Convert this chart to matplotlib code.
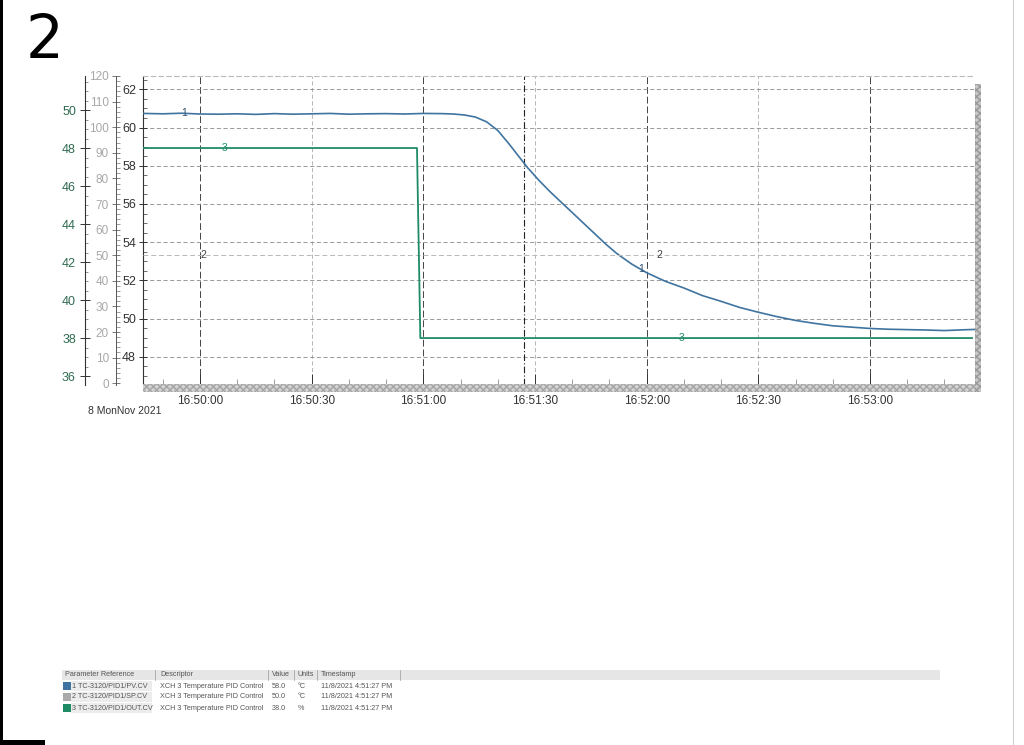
import pandas as pd
import matplotlib.pyplot as plt
import matplotlib.dates as mdates
from matplotlib.ticker import MultipleLocator
from matplotlib.patches import Rectangle
from matplotlib.lines import Line2D
import numpy as np

plt.rcParams['font.family'] = ['Liberation Sans', 'DejaVu Sans']

start = pd.Timestamp("2021-11-08 16:50:00")
cursor_s = 87  # 16:51:27

# 1 PV (deg C, inner axis) - seconds after 16:50:00
pv_s = [-15.3, -10, -5, 0, 5, 10, 15, 20, 25, 30, 35, 40, 45, 50, 55, 60, 65,
        68, 71, 74, 77, 80, 83, 86, 88, 91, 94, 97, 100, 103, 106, 109, 112, 116,
        120, 125, 130, 135, 140, 145, 150, 155, 160, 165, 170, 175, 180, 185,
        190, 195, 200, 205, 208.2]
pv_val = [60.74, 60.72, 60.75, 60.71, 60.70, 60.72, 60.69, 60.73, 60.70, 60.72,
          60.74, 60.70, 60.72, 60.73, 60.71, 60.74, 60.73, 60.71, 60.66, 60.55,
          60.30, 59.85, 59.15, 58.40, 57.90, 57.25, 56.65, 56.10, 55.55, 55.00,
          54.45, 53.90, 53.40, 52.85, 52.40, 51.95, 51.60, 51.20, 50.90, 50.58,
          50.33, 50.10, 49.90, 49.75, 49.62, 49.55, 49.48, 49.44, 49.42, 49.40,
          49.37, 49.41, 49.43]

# 2 SP (middle axis)
sp_s = [-15.3, 208.2]
sp_val = [50.0, 50.0]

# 3 OUT (%, outer axis)
out_s = [-15.3, 58.3, 59.2, 207.4]
out_val = [48.0, 48.0, 38.0, 38.0]

# pen labels (seconds)
label1_s = [-4.3, 118.5]
label2_s = [0.8, 123.3]
label3_s = [6.7, 129.4]

table_rows = [
    ["1 TC-3120/PID1/PV.CV", "XCH 3 Temperature PID Control", "58.0", "\u00b0C", "11/8/2021 4:51:27 PM"],
    ["2 TC-3120/PID1/SP.CV", "XCH 3 Temperature PID Control", "50.0", "\u00b0C", "11/8/2021 4:51:27 PM"],
    ["3 TC-3120/PID1/OUT.CV", "XCH 3 Temperature PID Control", "38.0", "%", "11/8/2021 4:51:27 PM"],
]
table_header = ["Parameter Reference", "Descriptor", "Value", "Units", "Timestamp"]

blue = "#3f74a0"
green = "#1f8c66"
gray = "#aaaaaa"


def to_time(sec):
    return start + pd.to_timedelta(np.asarray(sec, dtype=float), unit="s")


W, H = 1024, 745
fig = plt.figure(figsize=(10.24, 7.45), dpi=100)
ax = fig.add_axes([143 / W, 1 - 385 / H, (975 - 143) / W, (385 - 76) / H])

ax.set_xlim(to_time(-15.3), to_time(208.2))
ax.set_ylim(46.52, 62.7)

for s in ["right", "bottom"]:
    ax.spines[s].set_visible(False)
ax.spines["top"].set_color("#bbbbbb")
ax.spines["top"].set_linestyle((0, (4, 3)))
ax.spines["left"].set_color("#333333")
ax.spines["left"].set_linewidth(0.8)

ax.yaxis.set_major_locator(MultipleLocator(2))
ax.yaxis.set_minor_locator(MultipleLocator(0.5))
ax.tick_params(axis="y", which="major", direction="inout", length=6, width=0.7,
               labelsize=9, colors="#333333", pad=2)
ax.tick_params(axis="y", which="minor", direction="in", length=3, width=0.6, colors="#555555")

ax.xaxis.set_major_locator(mdates.SecondLocator(bysecond=[0, 30]))
ax.xaxis.set_minor_locator(mdates.SecondLocator(bysecond=[10, 20, 40, 50]))
ax.xaxis.set_major_formatter(mdates.DateFormatter("%H:%M:%S"))
ax.tick_params(axis="x", which="major", direction="in", length=8, width=0.7,
               labelsize=8.5, colors="#333333", pad=7)
ax.tick_params(axis="x", which="minor", direction="in", length=4, width=0.5, colors="#777777")

ax.grid(axis="y", color="#8a8a8a", linestyle=(0, (5, 3)), linewidth=0.6)
ax.grid(axis="x", color="#aaaaaa", linestyle=(0, (5, 3)), linewidth=0.6)
fig.canvas.draw()
for gl, loc in zip(ax.get_xgridlines(), ax.get_xticks()):
    if mdates.num2date(loc).second == 0:
        gl.set_color("#444444")
        gl.set_linestyle((0, (7, 3)))
        gl.set_linewidth(0.7)
ax.axvline(to_time(cursor_s), color="#222222", linestyle=(0, (6, 2, 1, 2)), linewidth=0.8)

ax.plot(to_time(pv_s), pv_val, color=blue, linewidth=1.2, zorder=4)
for s in label1_s:
    ax.text(to_time(s), np.interp(s, pv_s, pv_val), "1", fontsize=7.5, color="#2d4f70",
            ha="center", va="center", zorder=5)

# middle axis 0-120
ax2 = ax.twinx()
ax2.spines["right"].set_visible(False)
ax2.spines["top"].set_visible(False)
ax2.spines["bottom"].set_visible(False)
ax2.spines["left"].set_visible(True)
ax2.spines["left"].set_position(("outward", 19.5))
ax2.spines["left"].set_color("#555555")
ax2.spines["left"].set_linewidth(0.7)
ax2.yaxis.tick_left()
ax2.set_ylim(-0.7, 120)
ax2.yaxis.set_major_locator(MultipleLocator(10))
ax2.yaxis.set_minor_locator(MultipleLocator(2))
ax2.tick_params(axis="y", which="major", direction="inout", length=6, width=0.6,
                labelsize=8.5, labelcolor="#a8a8a8", color="#666666", pad=2)
ax2.tick_params(axis="y", which="minor", direction="in", length=3, width=0.5, color="#777777")
ax2.plot(to_time(sp_s), sp_val, color="#b8b8b8", linewidth=0.7, linestyle=(0, (5, 3)), zorder=3)
for s in label2_s:
    ax2.text(to_time(s), sp_val[0], "2", fontsize=7.5, color="#444444",
             ha="center", va="center", zorder=5)

# outer axis 36-50
ax3 = ax.twinx()
ax3.spines["right"].set_visible(False)
ax3.spines["top"].set_visible(False)
ax3.spines["bottom"].set_visible(False)
ax3.spines["left"].set_visible(True)
ax3.spines["left"].set_position(("outward", 41.8))
ax3.spines["left"].set_color("#333333")
ax3.spines["left"].set_linewidth(0.8)
ax3.yaxis.tick_left()
ax3.set_ylim(35.53, 51.79)
ax3.yaxis.set_major_locator(MultipleLocator(2))
ax3.yaxis.set_minor_locator(MultipleLocator(0.5))
ax3.tick_params(axis="y", which="major", direction="inout", length=7, width=0.7,
                labelsize=9, labelcolor="#2f6a50", color="#333333", pad=3)
ax3.tick_params(axis="y", which="minor", direction="in", length=2.5, width=0.5, color="#666666")
ax3.plot(to_time(out_s), out_val, color=green, linewidth=1.3, zorder=4)
for s in label3_s:
    ax3.text(to_time(s), np.interp(s, out_s, out_val), "3", fontsize=7.5, color=green,
             ha="center", va="center", zorder=5)

# scrollbar strips
fig.add_artist(Rectangle((143 / W, 1 - 392 / H), (981 - 143) / W, 8 / H,
                         facecolor="#d2d2d2", edgecolor="#a5a5a5", hatch="xxxxx", linewidth=0))
fig.add_artist(Rectangle((975 / W, 1 - 392 / H), 6 / W, (392 - 84) / H,
                         facecolor="#c8c8c8", edgecolor="#999999", hatch="xxxxx", linewidth=0))

fig.text(88 / W, 1 - 411 / H, "8 MonNov 2021", fontsize=7.5, color="#333333", va="center")

# handwritten page number
fig.text(26 / W, 1 - 41 / H, "2", fontsize=43, color="black", va="center", ha="left",
         family="DejaVu Sans")

# parameter table
col_x = [65, 160, 272, 298, 321]
sep_x = [155, 268, 294, 317, 400]
fig.add_artist(Rectangle((62 / W, 1 - 680 / H), (940 - 62) / W, 10 / H,
                         facecolor="#e6e6e6", edgecolor="none"))
for x in sep_x:
    fig.add_artist(Line2D([x / W, x / W], [1 - 680 / H, 1 - 670 / H], color="#999999", linewidth=0.5))
for x, txt in zip(col_x, table_header):
    fig.text(x / W, 1 - 675 / H, txt, fontsize=5.2, color="#555555", va="center")

swatch = [blue, gray, green]
for i, row in enumerate(table_rows):
    y = 686 + i * 11
    fig.add_artist(Rectangle((71 / W, 1 - (y + 5) / H), (152 - 71) / W, 10 / H,
                             facecolor="#ececec", edgecolor="none"))
    fig.add_artist(Rectangle((63 / W, 1 - (y + 4) / H), 8 / W, 8 / H,
                             facecolor=swatch[i], edgecolor="none"))
    fig.text(72 / W, 1 - y / H, row[0], fontsize=5.2, color="#555555", va="center")
    for x, txt in zip(col_x[1:], row[1:]):
        fig.text(x / W, 1 - y / H, txt, fontsize=5.2, color="#555555", va="center")

# scan edges
fig.add_artist(Rectangle((0, 0), 3 / W, 1, facecolor="black", edgecolor="none"))
fig.add_artist(Rectangle((0, 0), 45 / W, 5 / H, facecolor="black", edgecolor="none"))
fig.add_artist(Line2D([1013 / W, 1013 / W], [0, 1], color="#d0d0d0", linewidth=0.8))

fig.savefig("out.png", dpi=100)
